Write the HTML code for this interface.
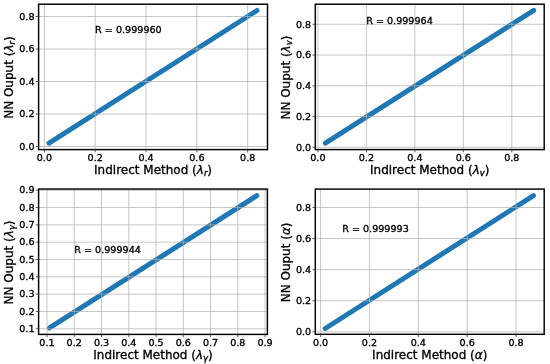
<!DOCTYPE html>
<html><head><meta charset="utf-8"><style>
html,body{margin:0;padding:0;background:#fff;}
svg{display:block;font-family:'DejaVu Sans', 'Liberation Sans', sans-serif;fill:#000;}
text{stroke:#000;stroke-width:0.32px;}
</style></head><body>
<svg width="550" height="364" viewBox="0 0 550 364">
<rect width="550" height="364" fill="#fff"/>
<path d="M49.00 143.20L257.00 10.50" stroke="#1f77b4" stroke-width="5.0" stroke-linecap="round" fill="none"/>
<path d="M44.40 4.20V149.60M95.22 4.20V149.60M146.04 4.20V149.60M196.86 4.20V149.60M247.68 4.20V149.60M38.60 146.50H267.50M38.60 114.00H267.50M38.60 81.50H267.50M38.60 49.00H267.50M38.60 16.50H267.50" stroke="#b0b0b0" stroke-width="0.9" stroke-opacity="0.8" fill="none"/>
<rect x="38.60" y="4.20" width="228.90" height="145.40" stroke="#000" stroke-width="1.45" fill="none"/>
<path d="M44.40 149.60v2.8M95.22 149.60v2.8M146.04 149.60v2.8M196.86 149.60v2.8M247.68 149.60v2.8M38.60 146.50h-2.8M38.60 114.00h-2.8M38.60 81.50h-2.8M38.60 49.00h-2.8M38.60 16.50h-2.8" stroke="#333" stroke-width="0.8" fill="none"/>
<text transform="translate(44.40 161.10) scale(1.0753 1)" text-anchor="middle" font-size="8.93">0.0</text>
<text transform="translate(95.22 161.10) scale(1.0753 1)" text-anchor="middle" font-size="8.93">0.2</text>
<text transform="translate(146.04 161.10) scale(1.0753 1)" text-anchor="middle" font-size="8.93">0.4</text>
<text transform="translate(196.86 161.10) scale(1.0753 1)" text-anchor="middle" font-size="8.93">0.6</text>
<text transform="translate(247.68 161.10) scale(1.0753 1)" text-anchor="middle" font-size="8.93">0.8</text>
<text transform="translate(34.50 149.80) scale(1.0753 1)" text-anchor="end" font-size="8.93">0.0</text>
<text transform="translate(34.50 117.30) scale(1.0753 1)" text-anchor="end" font-size="8.93">0.2</text>
<text transform="translate(34.50 84.80) scale(1.0753 1)" text-anchor="end" font-size="8.93">0.4</text>
<text transform="translate(34.50 52.30) scale(1.0753 1)" text-anchor="end" font-size="8.93">0.6</text>
<text transform="translate(34.50 19.80) scale(1.0753 1)" text-anchor="end" font-size="8.93">0.8</text>
<text transform="translate(95.10 32.90) scale(1.0753 1)" font-size="8.93">R = 0.999960</text>
<text transform="translate(153.05 174.30) scale(1.0309 1)" text-anchor="middle" font-size="11.64">Indirect Method (<tspan font-style="italic">λ</tspan><tspan font-style="italic" font-size="8.15" dy="2.0">r</tspan><tspan dy="-2.0">)</tspan></text>
<text transform="translate(13.00 77.60) rotate(-90) scale(1.0309 1)" text-anchor="middle" font-size="11.64">NN Ouput (<tspan font-style="italic">λ</tspan><tspan font-style="italic" font-size="8.15" dy="2.0">r</tspan><tspan dy="-2.0">)</tspan></text>
<path d="M325.40 143.20L533.70 10.40" stroke="#1f77b4" stroke-width="5.0" stroke-linecap="round" fill="none"/>
<path d="M317.90 4.20V149.60M366.38 4.20V149.60M414.86 4.20V149.60M463.34 4.20V149.60M511.82 4.20V149.60M315.30 147.30H544.20M315.30 116.55H544.20M315.30 85.80H544.20M315.30 55.05H544.20M315.30 24.30H544.20" stroke="#b0b0b0" stroke-width="0.9" stroke-opacity="0.8" fill="none"/>
<rect x="315.30" y="4.20" width="228.90" height="145.40" stroke="#000" stroke-width="1.45" fill="none"/>
<path d="M317.90 149.60v2.8M366.38 149.60v2.8M414.86 149.60v2.8M463.34 149.60v2.8M511.82 149.60v2.8M315.30 147.30h-2.8M315.30 116.55h-2.8M315.30 85.80h-2.8M315.30 55.05h-2.8M315.30 24.30h-2.8" stroke="#333" stroke-width="0.8" fill="none"/>
<text transform="translate(317.90 161.10) scale(1.0753 1)" text-anchor="middle" font-size="8.93">0.0</text>
<text transform="translate(366.38 161.10) scale(1.0753 1)" text-anchor="middle" font-size="8.93">0.2</text>
<text transform="translate(414.86 161.10) scale(1.0753 1)" text-anchor="middle" font-size="8.93">0.4</text>
<text transform="translate(463.34 161.10) scale(1.0753 1)" text-anchor="middle" font-size="8.93">0.6</text>
<text transform="translate(511.82 161.10) scale(1.0753 1)" text-anchor="middle" font-size="8.93">0.8</text>
<text transform="translate(311.20 150.60) scale(1.0753 1)" text-anchor="end" font-size="8.93">0.0</text>
<text transform="translate(311.20 119.85) scale(1.0753 1)" text-anchor="end" font-size="8.93">0.2</text>
<text transform="translate(311.20 89.10) scale(1.0753 1)" text-anchor="end" font-size="8.93">0.4</text>
<text transform="translate(311.20 58.35) scale(1.0753 1)" text-anchor="end" font-size="8.93">0.6</text>
<text transform="translate(311.20 27.60) scale(1.0753 1)" text-anchor="end" font-size="8.93">0.8</text>
<text transform="translate(366.20 24.10) scale(1.0753 1)" font-size="8.93">R = 0.999964</text>
<text transform="translate(429.75 174.30) scale(1.0309 1)" text-anchor="middle" font-size="11.64">Indirect Method (<tspan font-style="italic">λ</tspan><tspan font-style="italic" font-size="8.15" dy="2.0">v</tspan><tspan dy="-2.0">)</tspan></text>
<text transform="translate(290.00 77.60) rotate(-90) scale(1.0309 1)" text-anchor="middle" font-size="11.64">NN Ouput (<tspan font-style="italic">λ</tspan><tspan font-style="italic" font-size="8.15" dy="2.0">v</tspan><tspan dy="-2.0">)</tspan></text>
<path d="M49.50 327.80L256.80 195.70" stroke="#1f77b4" stroke-width="5.0" stroke-linecap="round" fill="none"/>
<path d="M47.00 189.05V334.40M74.26 189.05V334.40M101.52 189.05V334.40M128.78 189.05V334.40M156.04 189.05V334.40M183.30 189.05V334.40M210.56 189.05V334.40M237.82 189.05V334.40M265.08 189.05V334.40M38.60 328.78H267.40M38.60 311.45H267.40M38.60 294.12H267.40M38.60 276.80H267.40M38.60 259.48H267.40M38.60 242.15H267.40M38.60 224.83H267.40M38.60 207.50H267.40M38.60 190.18H267.40" stroke="#b0b0b0" stroke-width="0.9" stroke-opacity="0.8" fill="none"/>
<rect x="38.60" y="189.05" width="228.80" height="145.35" stroke="#000" stroke-width="1.45" fill="none"/>
<path d="M47.00 334.40v2.8M74.26 334.40v2.8M101.52 334.40v2.8M128.78 334.40v2.8M156.04 334.40v2.8M183.30 334.40v2.8M210.56 334.40v2.8M237.82 334.40v2.8M265.08 334.40v2.8M38.60 328.78h-2.8M38.60 311.45h-2.8M38.60 294.12h-2.8M38.60 276.80h-2.8M38.60 259.48h-2.8M38.60 242.15h-2.8M38.60 224.83h-2.8M38.60 207.50h-2.8M38.60 190.18h-2.8" stroke="#333" stroke-width="0.8" fill="none"/>
<text transform="translate(47.00 345.90) scale(1.0753 1)" text-anchor="middle" font-size="8.93">0.1</text>
<text transform="translate(74.26 345.90) scale(1.0753 1)" text-anchor="middle" font-size="8.93">0.2</text>
<text transform="translate(101.52 345.90) scale(1.0753 1)" text-anchor="middle" font-size="8.93">0.3</text>
<text transform="translate(128.78 345.90) scale(1.0753 1)" text-anchor="middle" font-size="8.93">0.4</text>
<text transform="translate(156.04 345.90) scale(1.0753 1)" text-anchor="middle" font-size="8.93">0.5</text>
<text transform="translate(183.30 345.90) scale(1.0753 1)" text-anchor="middle" font-size="8.93">0.6</text>
<text transform="translate(210.56 345.90) scale(1.0753 1)" text-anchor="middle" font-size="8.93">0.7</text>
<text transform="translate(237.82 345.90) scale(1.0753 1)" text-anchor="middle" font-size="8.93">0.8</text>
<text transform="translate(265.08 345.90) scale(1.0753 1)" text-anchor="middle" font-size="8.93">0.9</text>
<text transform="translate(34.50 332.08) scale(1.0753 1)" text-anchor="end" font-size="8.93">0.1</text>
<text transform="translate(34.50 314.75) scale(1.0753 1)" text-anchor="end" font-size="8.93">0.2</text>
<text transform="translate(34.50 297.43) scale(1.0753 1)" text-anchor="end" font-size="8.93">0.3</text>
<text transform="translate(34.50 280.10) scale(1.0753 1)" text-anchor="end" font-size="8.93">0.4</text>
<text transform="translate(34.50 262.78) scale(1.0753 1)" text-anchor="end" font-size="8.93">0.5</text>
<text transform="translate(34.50 245.45) scale(1.0753 1)" text-anchor="end" font-size="8.93">0.6</text>
<text transform="translate(34.50 228.13) scale(1.0753 1)" text-anchor="end" font-size="8.93">0.7</text>
<text transform="translate(34.50 210.80) scale(1.0753 1)" text-anchor="end" font-size="8.93">0.8</text>
<text transform="translate(34.50 193.48) scale(1.0753 1)" text-anchor="end" font-size="8.93">0.9</text>
<text transform="translate(74.30 253.20) scale(1.0753 1)" font-size="8.93">R = 0.999944</text>
<text transform="translate(153.00 358.70) scale(1.0309 1)" text-anchor="middle" font-size="11.64">Indirect Method (<tspan font-style="italic">λ</tspan><tspan font-style="italic" font-size="8.15" dy="2.0">γ</tspan><tspan dy="-2.0">)</tspan></text>
<text transform="translate(13.00 262.43) rotate(-90) scale(1.0309 1)" text-anchor="middle" font-size="11.64">NN Ouput (<tspan font-style="italic">λ</tspan><tspan font-style="italic" font-size="8.15" dy="2.0">γ</tspan><tspan dy="-2.0">)</tspan></text>
<path d="M325.20 328.50L533.40 195.70" stroke="#1f77b4" stroke-width="5.0" stroke-linecap="round" fill="none"/>
<path d="M320.60 189.10V334.30M369.46 189.10V334.30M418.32 189.10V334.30M467.18 189.10V334.30M516.04 189.10V334.30M315.30 331.80H544.20M315.30 300.72H544.20M315.30 269.64H544.20M315.30 238.56H544.20M315.30 207.48H544.20" stroke="#b0b0b0" stroke-width="0.9" stroke-opacity="0.8" fill="none"/>
<rect x="315.30" y="189.10" width="228.90" height="145.20" stroke="#000" stroke-width="1.45" fill="none"/>
<path d="M320.60 334.30v2.8M369.46 334.30v2.8M418.32 334.30v2.8M467.18 334.30v2.8M516.04 334.30v2.8M315.30 331.80h-2.8M315.30 300.72h-2.8M315.30 269.64h-2.8M315.30 238.56h-2.8M315.30 207.48h-2.8" stroke="#333" stroke-width="0.8" fill="none"/>
<text transform="translate(320.60 345.80) scale(1.0753 1)" text-anchor="middle" font-size="8.93">0.0</text>
<text transform="translate(369.46 345.80) scale(1.0753 1)" text-anchor="middle" font-size="8.93">0.2</text>
<text transform="translate(418.32 345.80) scale(1.0753 1)" text-anchor="middle" font-size="8.93">0.4</text>
<text transform="translate(467.18 345.80) scale(1.0753 1)" text-anchor="middle" font-size="8.93">0.6</text>
<text transform="translate(516.04 345.80) scale(1.0753 1)" text-anchor="middle" font-size="8.93">0.8</text>
<text transform="translate(311.20 335.10) scale(1.0753 1)" text-anchor="end" font-size="8.93">0.0</text>
<text transform="translate(311.20 304.02) scale(1.0753 1)" text-anchor="end" font-size="8.93">0.2</text>
<text transform="translate(311.20 272.94) scale(1.0753 1)" text-anchor="end" font-size="8.93">0.4</text>
<text transform="translate(311.20 241.86) scale(1.0753 1)" text-anchor="end" font-size="8.93">0.6</text>
<text transform="translate(311.20 210.78) scale(1.0753 1)" text-anchor="end" font-size="8.93">0.8</text>
<text transform="translate(342.20 232.40) scale(1.0753 1)" font-size="8.93">R = 0.999993</text>
<text transform="translate(429.75 358.70) scale(1.0309 1)" text-anchor="middle" font-size="11.64">Indirect Method (<tspan font-style="italic">α</tspan>)</text>
<text transform="translate(290.00 262.40) rotate(-90) scale(1.0309 1)" text-anchor="middle" font-size="11.64">NN Ouput (<tspan font-style="italic">α</tspan>)</text>
</svg>
</body></html>
